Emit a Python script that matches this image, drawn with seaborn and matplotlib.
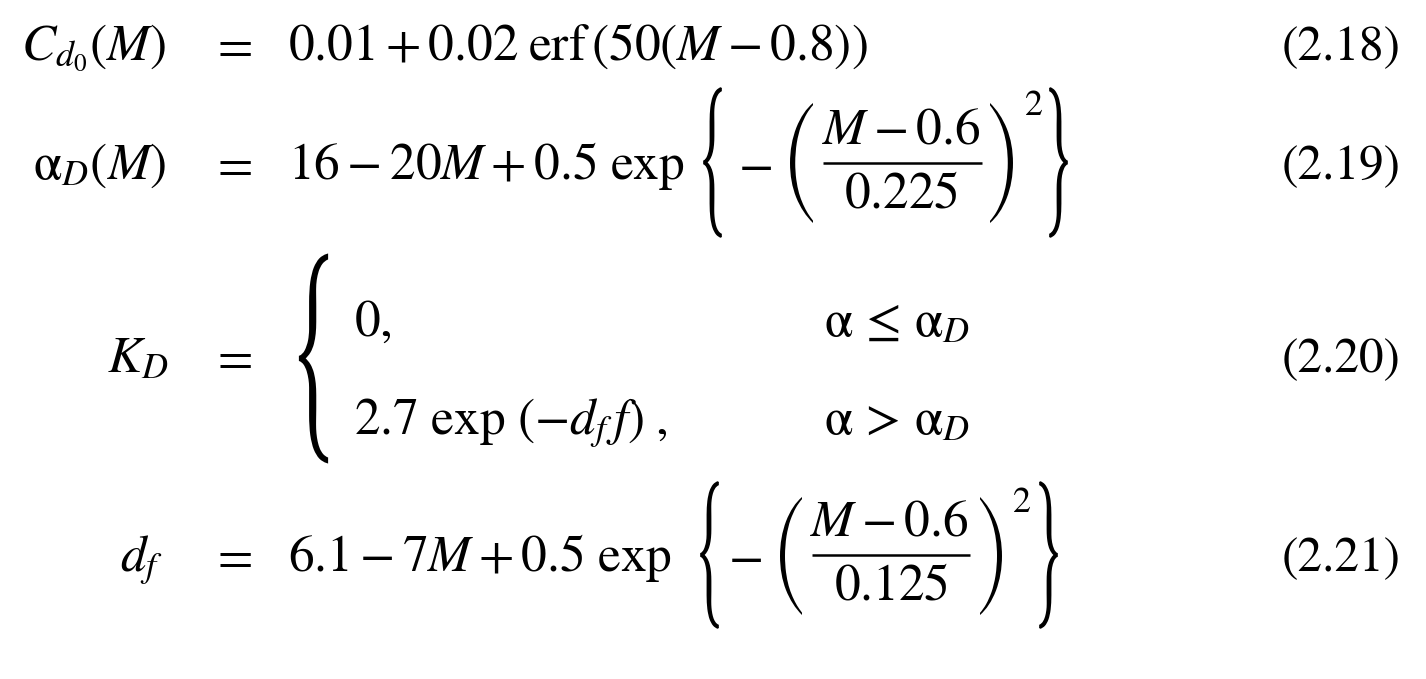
import matplotlib
matplotlib.use('Agg')
import matplotlib.pyplot as plt
import matplotlib.transforms as mtransforms
from matplotlib.textpath import TextPath
from matplotlib.patches import PathPatch
from matplotlib.font_manager import FontProperties
import seaborn as sns

# equation content
eq_numbers = ['(2.18)', '(2.19)', '(2.20)', '(2.21)']
lhs = [r'$C_{d_0}(M)$', r'$\mathrm{\alpha}_D(M)$', r'$K_D$', r'$d_f$']
rhs_lead = [r'$0.01+0.02\;\mathrm{erf}\,(50(M-0.8))$',
            r'$16-20M+0.5\ \exp$',
            None,
            r'$6.1-7M+0.5\ \exp$']
gauss_center = '0.6'
gauss_width = {1: '0.225', 3: '0.125'}
cases_values = [r'$0,$', r'$2.7\ \exp\,\left(-d_f\,f\right)\;,$']
cases_conditions = [r'$\mathrm{\alpha}\,\leq\,\mathrm{\alpha}_D$',
                    r'$\mathrm{\alpha}\,>\,\mathrm{\alpha}_D$']

W, H = 1426, 679
FS = 37

sns.set_theme(style='white')
plt.rcParams['font.family'] = ['STIXGeneral', 'DejaVu Sans']
plt.rcParams['mathtext.fontset'] = 'stix'

fig = plt.figure(figsize=(W / 100, H / 100), dpi=100)
fig.patch.set_facecolor('white')
ax = fig.add_axes([0, 0, 1, 1])
ax.set_xlim(0, W)
ax.set_ylim(H, 0)
ax.axis('off')


def put(x, y, s, ha='left', fs=FS):
    ax.text(x, y, s, ha=ha, va='baseline', fontsize=fs, color='black')


def glyph(ch, x0, x1, y0, y1, font='STIXSizeFourSym', lw=1.2):
    # big delimiter stretched into a box (image pixel coordinates)
    tp = TextPath((0, 0), ch, size=100, prop=FontProperties(family=font))
    ext = tp.get_extents()
    tr = (mtransforms.Affine2D()
          .translate(-ext.x0, -ext.y1)
          .scale((x1 - x0) / ext.width, -(y1 - y0) / ext.height)
          .translate(x0, y0))
    ax.add_patch(PathPatch(tr.transform_path(tp), fc='black',
                           ec='black' if lw > 0 else 'none', lw=lw))


baselines = [60, 179, 372, 571]
lhs_right = [166, 166, 168, 163]

for i in range(4):
    yb = baselines[i]
    put(lhs_right[i], yb, lhs[i], ha='right')
    put(231, yb, r'$=$', ha='center')
    put(1401, yb, eq_numbers[i], ha='right', fs=35.5)
    if rhs_lead[i] is not None:
        put(288, yb, rhs_lead[i])

# gaussian terms of (2.19) and (2.21)
gauss_pos = {
    1: dict(b0=(704, 721, 88, 237), minus=738, p0=(790, 813, 103, 223),
            bar=(823, 982), num=901, den=901, p1=(990, 1013, 103, 223),
            sup=(1024, 115), b1=(1050, 1067, 88, 237)),
    3: dict(b0=(701, 718, 482, 628), minus=728, p0=(780, 802, 497, 615),
            bar=(812, 970), num=889, den=891, p1=(980, 1002, 497, 615),
            sup=(1012, 512), b1=(1040, 1057, 482, 628)),
}
for i, w in gauss_width.items():
    axis_y = baselines[i] - 16
    p = gauss_pos[i]
    glyph('{', *p['b0'])
    put(p['minus'], baselines[i], r'$-$')
    glyph('(', *p['p0'], font='STIXSizeThreeSym', lw=0)
    put(p['num'], axis_y - 20, r'$M-' + gauss_center + '$', ha='center')
    ax.plot(p['bar'], [axis_y, axis_y], color='black', lw=1.8, solid_capstyle='butt')
    put(p['den'], axis_y + 45, '$' + w + '$', ha='center')
    glyph(')', *p['p1'], font='STIXSizeThreeSym', lw=0)
    put(p['sup'][0], p['sup'][1], '$2$', fs=26)
    glyph('}', *p['b1'])

# cases of (2.20)
glyph('{', 300, 327, 255, 462, lw=1.6)
case_baselines = [336, 434]
for yb, v, c in zip(case_baselines, cases_values, cases_conditions):
    put(354, yb, v)
    put(824, yb, c)

fig.savefig('out.png', dpi=100, facecolor='white')
